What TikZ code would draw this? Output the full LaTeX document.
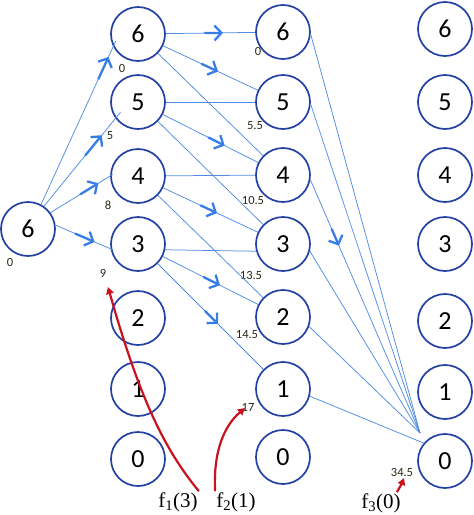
\documentclass[tikz,border=0pt]{standalone}
\usepackage{fontspec}
\setmainfont{Carlito}
\newfontfamily\fserif{Liberation Serif}
\usetikzlibrary{arrows.meta,decorations.markings}
\definecolor{circ}{RGB}{35,65,165}
\definecolor{edgec}{RGB}{80,140,228}
\definecolor{arrc}{RGB}{55,125,232}
\definecolor{labc}{RGB}{40,40,20}
\definecolor{redc}{RGB}{200,18,30}
\begin{document}
\begin{tikzpicture}[x=1pt,y=-1pt,
  st/.style={circle,draw=circ,line width=1.7pt,minimum size=54pt,inner sep=0pt,font=\fontsize{26}{26}\selectfont},
  lab/.style={font=\fontsize{12.5}{12.5}\selectfont,text=labc,inner sep=0.5pt},
  edge/.style={draw=edgec,line width=0.75pt},
  marr/.style={postaction={decorate},decoration={markings,mark=at position #1 with {\draw[draw=arrc,line width=2.3pt,line cap=round,-{Straight Barb[length=7pt,width=15pt,line width=2.3pt]}] (-18pt,0) -- (0,0);}}},
  redarr/.style={draw=redc,line width=2.2pt,-{Triangle[length=7pt,width=7.5pt]}},
  flab/.style={font=\fserif\fontsize{21}{21}\selectfont,inner sep=1pt}]
\useasboundingbox (0,0) rectangle (474,515);

% left node
\node[st] (L6) at (28,229) {6};
\node[lab] (l0) at (10,262) {0};

% column 1
\node[st] (a6) at (138,34) {6};
\node[st] (a5) at (138,102) {5};
\node[st] (a4) at (138,176) {4};
\node[st] (a3) at (138,244) {3};
\node[st] (a2) at (138,318) {2};
\node[st] (a1) at (138,389) {1};
\node[st] (a0) at (138,459) {0};
% column 2
\node[st] (b6) at (283,32) {6};
\node[st] (b5) at (283,102) {5};
\node[st] (b4) at (283,175) {4};
\node[st] (b3) at (283,244) {3};
\node[st] (b2) at (283,317) {2};
\node[st] (b1) at (283,389) {1};
\node[st] (b0) at (283,457) {0};
% column 3
\node[st] (c6) at (445,29) {6};
\node[st] (c5) at (445,102) {5};
\node[st] (c4) at (445,175) {4};
\node[st] (c3) at (445,244) {3};
\node[st] (c2) at (445,321) {2};
\node[st] (c1) at (445,392) {1};
\node[st] (c0) at (445,461) {0};

% value labels
\node[lab] (la6) at (122,68) {0};
\node[lab] (la5) at (110,136) {5};
\node[lab] (la4) at (108,205) {8};
\node[lab] (la3) at (103,273) {9};
\node[lab] (lb6) at (258,51) {0};
\node[lab] (lb5) at (255,126) {5.5};
\node[lab] (lb4) at (253,200) {10.5};
\node[lab] (lb3) at (251,275) {13.5};
\node[lab] (lb2) at (247,335) {14.5};
\node[lab] (lb1) at (248,407) {17};
\node[lab] (lc0) at (402,472) {34.5};

% left to column 1
\draw[edge,marr=0.9,shorten >=-6pt] (L6.62) -- (a6.207);
\draw[edge,marr=0.74,shorten >=-8pt] (L6.55) -- (a5.216);
\draw[edge,marr=0.76,shorten >=-3pt] (L6.36) -- (a4.180);
\draw[edge,marr=0.66,shorten >=-3pt] (L6.8) -- (a3.190);

% column 1 to column 2
\draw[edge,marr=0.64] (a6) -- (b6);
\draw[edge,marr=0.58] (a6) -- (b5);
\draw[edge] (a6) -- (b4);
\draw[edge] (a5) -- (b5);
\draw[edge,marr=0.65] (a5) -- (b4);
\draw[edge] (a5) -- (b3);
\draw[edge] (a4) -- (b4);
\draw[edge,marr=0.57] (a4) -- (b3);
\draw[edge] (a4) -- (b2);
\draw[edge] (a3.-12) -- (b3.195);
\draw[edge,marr=0.6] (a3) -- (b2);
\draw[edge,marr=0.57] (a3) -- (b1);

% column 2 to column 3
\coordinate (conv) at (420,433);
\draw[edge] (b6.-5) -- (conv);
\draw[edge] (b5.-5) -- (conv);
\draw[edge,marr=0.26] (b4.-10) -- (conv);
\draw[edge] (b3.-15) -- (conv);
\draw[edge] (b2.-20) -- (conv);
\draw[edge] (b1.-15) -- (c0.140);

% red labels and arrows
\node[flab] (f1) at (178,502) {f\textsubscript{1}(3)};
\node[flab] (f2) at (236,502) {f\textsubscript{2}(1)};
\node[flab] (f3) at (381,503) {f\textsubscript{3}(0)};
\coordinate (t1) at (108,287);
\coordinate (t2) at (245,408);
\coordinate (t3) at (404,478);
\draw[redarr] (f1.north east) .. controls (165,450) and (140,400) .. (t1);
\draw[redarr] (f2.north west) .. controls (213,450) and (225,425) .. (t2);
\draw[redarr] ([xshift=-5pt]f3.north east) .. controls (400,488) .. (t3);
\end{tikzpicture}
\end{document}
